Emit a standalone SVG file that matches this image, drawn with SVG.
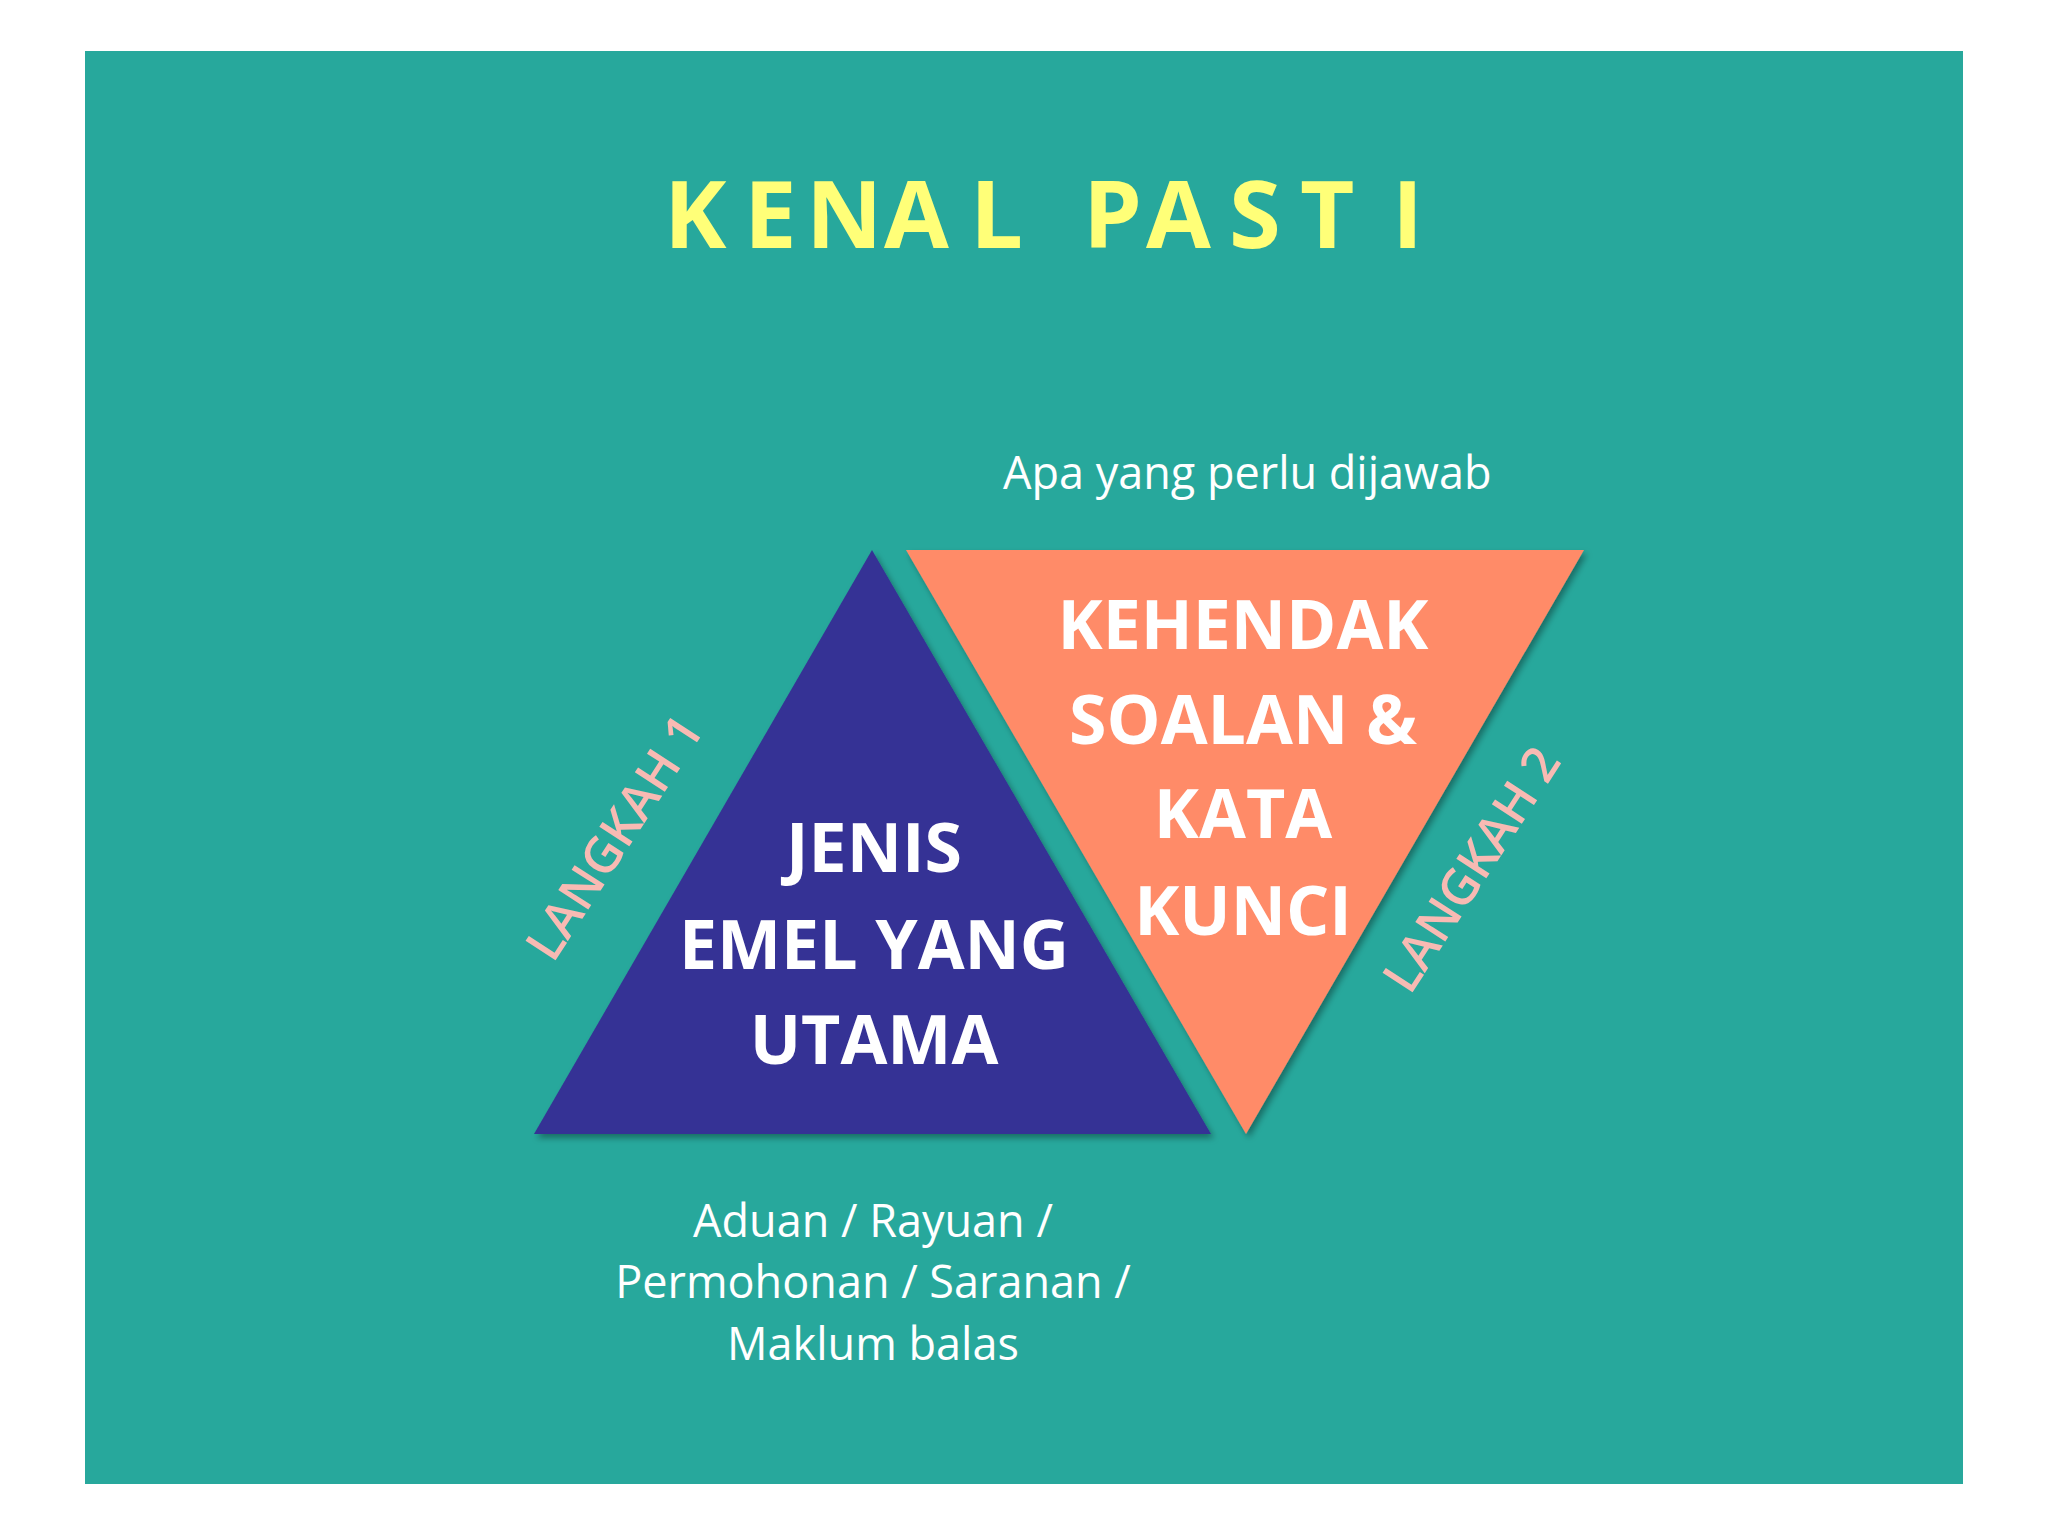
<svg xmlns="http://www.w3.org/2000/svg" width="2048" height="1536" viewBox="0 0 2048 1536">
<defs>
<style>
.title{font-family:"Open Sans","Liberation Sans",sans-serif;font-weight:700;font-size:94px;fill:#FFFF78}
.big{font-family:"Open Sans","Liberation Sans",sans-serif;font-weight:700;font-size:68px;fill:#FFFFFF;text-anchor:middle}
.note{font-family:"Open Sans","Liberation Sans",sans-serif;font-size:45px;fill:#FFFFFF}
.step{font-family:"Open Sans","Liberation Sans",sans-serif;font-weight:600;font-size:50px;fill:#F8BAB3;text-anchor:middle}
</style>
<filter id="sh" x="-10%" y="-10%" width="120%" height="120%">
<feDropShadow dx="3" dy="4" stdDeviation="3" flood-color="#000" flood-opacity="0.35"/>
</filter>
</defs>
<rect x="0" y="0" width="2048" height="1536" fill="#FFFFFF"/>
<rect x="85" y="51" width="1878" height="1433" fill="#27A89C"/>
<text class="title" x="664 744 806 884 970 1030 1083 1146 1229 1300 1392" y="248">KENAL PASTI</text>
<text class="note" x="1003" y="489">Apa yang perlu dijawab</text>
<g id="node-jenis">
<polygon points="872,550 534,1134 1211,1134" fill="#353295" filter="url(#sh)"/>
<text class="big" x="874" y="872">JENIS</text>
<text class="big" x="874" y="969">EMEL YANG</text>
<text class="big" x="874" y="1064">UTAMA</text>
</g>
<g id="node-kehendak">
<polygon points="906,550 1584,550 1246,1134" fill="#FF8B68" filter="url(#sh)"/>
<text class="big" x="1243" y="649">KEHENDAK</text>
<text class="big" x="1243" y="744">SOALAN &amp;</text>
<text class="big" x="1243" y="838">KATA</text>
<text class="big" x="1243" y="935">KUNCI</text>
</g>
<g id="connectors"></g>
<text class="step" transform="translate(614,837) rotate(-57)" x="0" y="18">LANGKAH 1</text>
<text class="step" transform="translate(1471,869) rotate(-57)" x="0" y="18">LANGKAH 2</text>
<text class="note" text-anchor="middle" x="873" y="1237">Aduan / Rayuan /</text>
<text class="note" text-anchor="middle" x="873" y="1298">Permohonan / Saranan /</text>
<text class="note" text-anchor="middle" x="873" y="1360">Maklum balas</text>
</svg>
